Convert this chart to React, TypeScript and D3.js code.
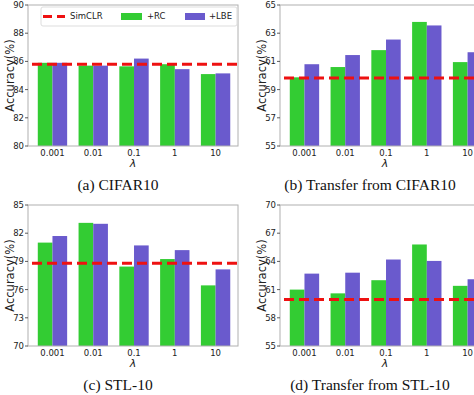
import React from "react";
import * as d3 from "d3";

const lambdas = ["0.001", "0.01", "0.1", "1", "10"];

// panel values
const cifarRC = [85.9, 85.7, 85.65, 85.8, 85.1];
const cifarLBE = [85.9, 85.7, 86.2, 85.45, 85.15];
const cifarSimCLR = 85.8;

const transCifarRC = [59.87, 60.6, 61.8, 63.8, 60.95];
const transCifarLBE = [60.8, 61.45, 62.55, 63.55, 61.65];
const transCifarSimCLR = 59.82;

const stlRC = [81.0, 83.1, 78.45, 79.25, 76.45];
const stlLBE = [81.7, 83.0, 80.7, 80.2, 78.15];
const stlSimCLR = 78.8;

const transStlRC = [61.0, 60.6, 62.0, 65.8, 61.4];
const transStlLBE = [62.7, 62.8, 64.2, 64.05, 62.1];
const transStlSimCLR = 59.95;

const ticksA = [80, 82, 84, 86, 88, 90];
const ticksB = [55, 57, 59, 61, 63, 65];
const ticksC = [70, 73, 76, 79, 82, 85];
const ticksD = [55, 58, 61, 64, 67, 70];

const GREEN = "#33cc33";
const PURPLE = "#6a5acd";
const RED = "#ee1111";
const SPINE = "#b0b0b0";

type PanelProps = {
  x0: number;
  y0: number;
  rc: number[];
  lbe: number[];
  base: number;
  ticks: number[];
  caption: string;
  legend?: boolean;
};

const Panel = ({ x0, y0, rc, lbe, base, ticks, caption, legend }: PanelProps) => {
  const w = 210;
  const h = 141;
  const x = d3.scaleLinear().domain([-0.6, 4.55]).range([x0, x0 + w]);
  const y = d3
    .scaleLinear()
    .domain([ticks[0], ticks[ticks.length - 1]])
    .range([y0 + h, y0]);
  const bw = 0.36;
  const barW = x(bw) - x(0);
  const clipId = `clip-${x0}-${y0}`;

  return (
    <g>
      <defs>
        <clipPath id={clipId}>
          <rect x={x0} y={y0} width={w} height={h} />
        </clipPath>
      </defs>
      <g clipPath={`url(#${clipId})`}>
        {rc.map((v, i) => (
          <rect
            key={`rc${i}`}
            x={x(i - bw)}
            y={y(v)}
            width={barW}
            height={y(ticks[0]) - y(v)}
            fill={GREEN}
          />
        ))}
        {lbe.map((v, i) => (
          <rect
            key={`lbe${i}`}
            x={x(i)}
            y={y(v)}
            width={barW}
            height={y(ticks[0]) - y(v)}
            fill={PURPLE}
          />
        ))}
        <line
          x1={x0 + 4}
          x2={x0 + w}
          y1={y(base)}
          y2={y(base)}
          stroke={RED}
          strokeWidth={3}
          strokeDasharray="10,5"
        />
      </g>
      {/* spines */}
      <rect x={x0} y={y0} width={w} height={h} fill="none" stroke={SPINE} strokeWidth={1} />
      {ticks.map((t) => (
        <g key={t}>
          <line x1={x0 - 3} x2={x0} y1={y(t)} y2={y(t)} stroke="#333" strokeWidth={0.8} />
          <text
            x={x0 - 4}
            y={y(t)}
            dy="0.35em"
            textAnchor="end"
            fontSize={8.5}
            fill="#222"
            fontFamily="DejaVu Sans"
          >
            {t}
          </text>
        </g>
      ))}
      {lambdas.map((l, i) => (
        <text
          key={l}
          x={x(i)}
          y={y0 + h + 10}
          textAnchor="middle"
          fontSize={8.5}
          fill="#222"
          fontFamily="DejaVu Sans"
        >
          {l}
        </text>
      ))}
      <text
        x={x0 + w / 2}
        y={y0 + h + 21}
        textAnchor="middle"
        fontSize={11}
        fontStyle="italic"
        fill="#222"
        fontFamily="DejaVu Sans"
      >
        λ
      </text>
      <text
        transform={`translate(${x0 - 18},${y0 + h / 2}) rotate(-90)`}
        textAnchor="middle"
        dy="0.35em"
        fontSize={11.5}
        fill="#222"
        fontFamily="DejaVu Sans"
      >
        Accuracy(%)
      </text>
      <text
        x={x0 + 90}
        y={y0 + 185}
        textAnchor="middle"
        fontSize={15.5}
        fill="#111"
        fontFamily="Liberation Serif"
      >
        {caption}
      </text>
      {legend && (
        <g fontFamily="DejaVu Sans" fontSize={8.5} fill="#222">
          <rect x={x0 + 13} y={y0 + 2} width={w - 14} height={19} rx={2} fill="white" stroke="#ddd" />
          <line
            x1={x0 + 15}
            x2={x0 + 37}
            y1={y0 + 11.5}
            y2={y0 + 11.5}
            stroke={RED}
            strokeWidth={3}
            strokeDasharray="9,5"
          />
          <text x={x0 + 42} y={y0 + 11.5} dy="0.35em">SimCLR</text>
          <rect x={x0 + 93} y={y0 + 8} width={21} height={7} fill={GREEN} />
          <text x={x0 + 119} y={y0 + 11.5} dy="0.35em">+RC</text>
          <rect x={x0 + 157} y={y0 + 8} width={20} height={7} fill={PURPLE} />
          <text x={x0 + 181} y={y0 + 11.5} dy="0.35em">+LBE</text>
        </g>
      )}
    </g>
  );
};

export default function App() {
  return (
    <svg width={474} height={395} style={{ position: "absolute", left: 0, top: 0, background: "white" }}>
      <Panel x0={28} y0={5} rc={cifarRC} lbe={cifarLBE} base={cifarSimCLR} ticks={ticksA} caption="(a) CIFAR10" legend />
      <Panel x0={280} y0={5} rc={transCifarRC} lbe={transCifarLBE} base={transCifarSimCLR} ticks={ticksB} caption="(b) Transfer from CIFAR10" />
      <Panel x0={28} y0={205} rc={stlRC} lbe={stlLBE} base={stlSimCLR} ticks={ticksC} caption="(c) STL-10" />
      <Panel x0={280} y0={205} rc={transStlRC} lbe={transStlLBE} base={transStlSimCLR} ticks={ticksD} caption="(d) Transfer from STL-10" />
    </svg>
  );
}
